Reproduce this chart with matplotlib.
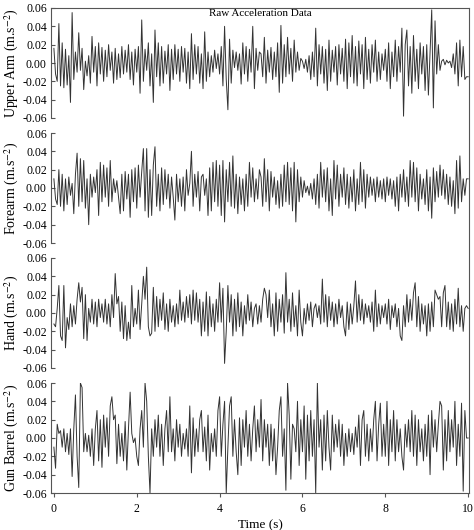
import numpy as np
import matplotlib
matplotlib.use('Agg')
import matplotlib.pyplot as plt

plt.rcParams['font.family'] = ['Liberation Serif', 'DejaVu Serif']
plt.rcParams['mathtext.fontset'] = 'stix'

# accelerations, in units of 0.001 m/s^2, 25 samples per second
upper_arm = [
    16, -12, -20, 43, -25, 22, -27, 15, -24, 8, -43, 55, -18, 12, -10, 33, -8, 16, -29, 2, -14, 8, -22, 29, -10,
    18, -25, 22, -12, 17, -20, 14, -15, 20, -8, 12, -22, 16, -18, 10, -16, 18, -12, 14, -10, 20, -18, 12, -24, 15,
    -10, 18, -33, 47, -20, 15, -8, 22, -25, 10, -43, 36, -15, 22, -25, 18, -22, 13, -12, 20, -30, 15, -18, 20, -12,
    15, -20, 18, -10, 16, -22, 12, -28, 32, -18, 20, -12, 18, -22, 10, -28, 34, -20, 12, -15, 8, -10, 14, -6, 10,
    -12, 18, -25, 40, -18, -51, 26, -22, 14, -5, 12, -8, 10, -23, 22, -12, 18, -20, 15, -10, 40, -28, 16, -8, 12,
    10, -15, 28, -22, 14, -10, 17, -18, 12, -15, 22, -32, 41, -22, 20, -15, 28, -12, 16, -20, 25, -10, 12, -8, 5,
    2, -6, 4, -10, 8, -18, 12, -15, 38, -25, 20, -12, 18, -22, 15, -30, 25, -20, 14, -10, 18, -24, 20, -12, 16,
    -20, 26, -28, 22, -15, 30, -22, 18, -25, 24, -12, 20, -28, 28, -18, 15, -22, 20, -10, 25, -20, 12, -18, 10, -8,
    15, -20, 22, -28, 12, -15, 25, -20, 18, -10, 38, -58, 20, 36, -25, 18, -33, 30, -20, 15, -28, 22, -12, 18, -30,
    20, -35, 10, 58, -49, 46, -12, 20, -8, 2, 4, -2, 3, 0, 2, -5, 10, -12, 22, -25, 25, -15, 18, -18, -15,
    -15,
]
forearm = [
    10, -12, -18, 20, -20, 15, -25, 10, -18, 12, -8, 5, -28, 15, 38, -20, 32, -15, 30, -22, 10, -40, 15, -10, 12,
    -5, 20, -30, 28, -15, 25, -10, 22, -20, 30, -15, 10, -5, 8, -10, -28, 15, -25, 18, -12, 15, -32, 20, -15, 22,
    -22, 25, -10, 18, 43, -25, 43, -32, 20, -30, 25, 45, -20, 15, -25, 22, -18, 20, -12, 15, -22, 12, -10, -35, 15,
    -15, 10, -20, 12, -25, 20, -8, 5, 40, -20, 15, -10, 18, -25, 12, 15, -8, 10, -30, 22, -25, 28, -15, 30, -20,
    25, -30, 30, -37, 20, -15, 28, -20, 35, -22, 15, -28, 12, -18, 10, -25, 15, -20, 28, -10, 22, -15, 10, -12, 20,
    12, -20, 32, -15, 20, -25, 18, -10, 12, -18, 8, -22, 15, -20, 25, -15, 28, -18, 22, -25, 28, -37, 20, -15, 12,
    -10, 8, -5, 2, -8, 5, -12, 10, -18, 15, -22, 28, -10, 20, -15, 22, -25, 10, -30, 30, -12, 25, -20, 15, -10,
    22, -18, 15, -22, 12, -15, 20, -25, 10, -18, 28, -15, 20, -22, 15, -10, 12, -8, 10, -15, 12, -10, 8, -12, 10,
    -15, 12, -8, 10, -12, 8, -20, 12, -25, 15, -10, 20, -15, 12, -20, 30, -10, 28, -15, 22, -25, 15, -12, 10, -18,
    20, -25, 12, -33, 22, -15, 18, -10, 25, -8, 20, -12, 15, -18, 12, -20, 8, -28, 30, -22, 35, -15, 10, -8, 10,
    10,
]
hand = [
    -12, -15, 5, 30, -25, -30, 30, -38, -5, -18, 10, -15, 8, -12, 15, 33, 12, 28, -28, 20, -30, 5, -10, 15, -12,
    12, -15, 15, -5, 10, -10, 15, -12, 10, -15, 20, -5, 43, 10, 18, -20, 12, -28, 8, -30, -10, -28, 30, -15, 5,
    -12, 25, -18, 10, 40, 15, 50, -15, -25, -22, 28, -20, 18, -15, 15, -8, 22, -18, 10, -20, 15, -10, 8, -15, 10,
    -12, 25, -8, 12, -10, 18, -5, 20, -12, 25, -8, 22, -10, 15, -25, 12, -20, 23, -25, 18, -15, 10, -20, 15, -10,
    33, -10, 27, -55, -20, 30, -10, 20, -25, 15, -20, 22, -15, 12, -25, 8, -12, 20, -8, 12, -15, 5, 10, -12, 8,
    -10, 15, 27, 20, -5, 25, -15, 10, -25, 22, -20, 15, -10, 20, -22, 44, -10, 15, -20, 22, -15, 8, -25, 25, -10,
    -25, 5, -12, 10, -8, 12, -15, 5, 10, -5, 8, -12, 37, -10, 20, -15, 18, -8, 12, -15, 10, -12, 15, -5, 8,
    -15, -25, 12, -18, 10, -12, 8, 35, -10, 20, -8, 15, -12, 10, -5, 8, -10, 12, -20, 25, -15, 10, -12, 8, -5,
    10, -12, 15, -18, 8, -5, 10, -15, 5, -25, -30, 8, -15, 20, -10, 15, -8, 22, 33, -15, 18, -20, 10, -12, 8,
    -25, 10, -20, 12, -15, 25, 20, 15, 18, -15, 22, 30, -15, 12, -18, 10, -20, 15, -12, 27, -15, 8, -20, 5, 8,
    5,
]
gun_barrel = [
    -10, -33, 15, 5, 8, -10, 10, -15, 5, -18, 10, -42, 10, 47, -20, -54, 60, 55, -15, 5, -15, 3, -20, 10, -30,
    10, 30, -25, 20, -32, 25, -10, 22, -20, 35, 45, 20, 25, -28, 15, -20, 5, -25, 18, -35, 10, 50, 5, -5, 0,
    -20, -30, 10, 30, -10, 60, 40, -20, -60, 10, -20, 20, -10, 25, -20, 15, -30, 10, 30, -15, 45, -15, 10, -25, 20,
    -10, 15, -20, 5, -12, 10, -20, 35, -38, 22, -20, 10, -15, 20, 30, -15, 12, -25, 25, -35, 5, -15, 10, -20, 30,
    45, -20, 15, 40, -60, -10, 35, 45, -20, 20, -15, -40, 22, -30, 20, -10, 30, -20, 15, -25, 10, 35, -15, 20, -10,
    42, -25, 20, -10, 15, -30, 15, -25, 10, -40, -10, 30, 45, -20, 10, -57, 60, 25, -45, 15, 10, -15, 40, -30, 20,
    -15, 35, -45, 25, -25, 30, -20, 20, -60, 60, -10, 20, -35, 25, -25, 30, -10, -35, 25, -15, 15, -10, 20, -20, 15,
    -30, 5, -20, 10, -15, 5, -18, 12, -10, 25, -30, 20, 30, -20, 15, -25, 10, -15, 20, 40, -25, 15, 38, -20, 15,
    -20, 40, -30, 20, -15, 30, -25, 20, -15, 10, -20, -35, 15, -10, 20, -15, 30, -20, 25, -30, 20, -15, 10, -25, 15,
    -20, 25, -40, 30, -10, 20, -15, 15, 40, 35, -35, 20, -25, 30, -15, 20, -10, 40, -30, 15, -20, 38, -58, 30, 0,
    0,
]

series = [upper_arm, forearm, hand, gun_barrel]
labels = ['Upper Arm (m.s$^{-2}$)', 'Forearm (m.s$^{-2}$)',
          'Hand (m.s$^{-2}$)', 'Gun Barrel (m.s$^{-2}$)']
yticks = [-0.06, -0.04, -0.02, 0.00, 0.02, 0.04, 0.06]
xticks = [0, 2, 4, 6, 8, 10]

W, H = 474, 530
fig = plt.figure(figsize=(W / 100, H / 100), dpi=100)

left_px, right_px = 51, 469
top_px, bottom_px = 8, 493
xlim = (-0.07, 10.02)
frame_col = '#555555'

# outer frame: top, right and bottom line, time axis
frame = fig.add_axes([left_px / W, 1 - bottom_px / H,
                      (right_px - left_px) / W, (bottom_px - top_px) / H])
frame.set_xlim(*xlim)
frame.spines['left'].set_visible(False)
frame.set_yticks([])
frame.set_xticks(xticks)
frame.set_xticklabels([str(v) for v in xticks])
frame.tick_params(axis='x', direction='out', length=3, width=0.8, color=frame_col,
                  labelsize=8.5, pad=4)
frame.set_xlabel('Time (s)', fontsize=9.5, labelpad=3)
for s in frame.spines.values():
    s.set_linewidth(0.8)
    s.set_color(frame_col)

for i, (vals, lab) in enumerate(zip(series, labels)):
    y = np.array(vals) / 1000.0
    t = np.linspace(0, 10, len(y))
    ptop = top_px + 125 * i
    pbot = ptop + 110
    ax = fig.add_axes([left_px / W, 1 - pbot / H,
                       (right_px - left_px) / W, (pbot - ptop) / H])
    ax.patch.set_visible(False)
    ax.plot(t, y, color='#333333', lw=0.7)
    ax.set_xlim(*xlim)
    ax.set_ylim(-0.06, 0.06)
    for side in ['top', 'right', 'bottom']:
        ax.spines[side].set_visible(False)
    ax.spines['left'].set_linewidth(0.8)
    ax.spines['left'].set_color(frame_col)
    ax.set_xticks([])
    ax.set_yticks(yticks)
    ax.set_yticklabels(['%.2f' % v for v in yticks])
    ax.tick_params(axis='y', direction='in', length=3, width=0.8, color=frame_col,
                   labelsize=8.5, pad=3)
    ax.set_ylabel(lab, fontsize=10)
    ax.yaxis.set_label_coords(-0.072, 0.5)
    if i == 0:
        ax.text(0.5, 0.99, 'Raw Acceleration Data', transform=ax.transAxes,
                ha='center', va='top', fontsize=8)

fig.savefig('out.png', dpi=100)
